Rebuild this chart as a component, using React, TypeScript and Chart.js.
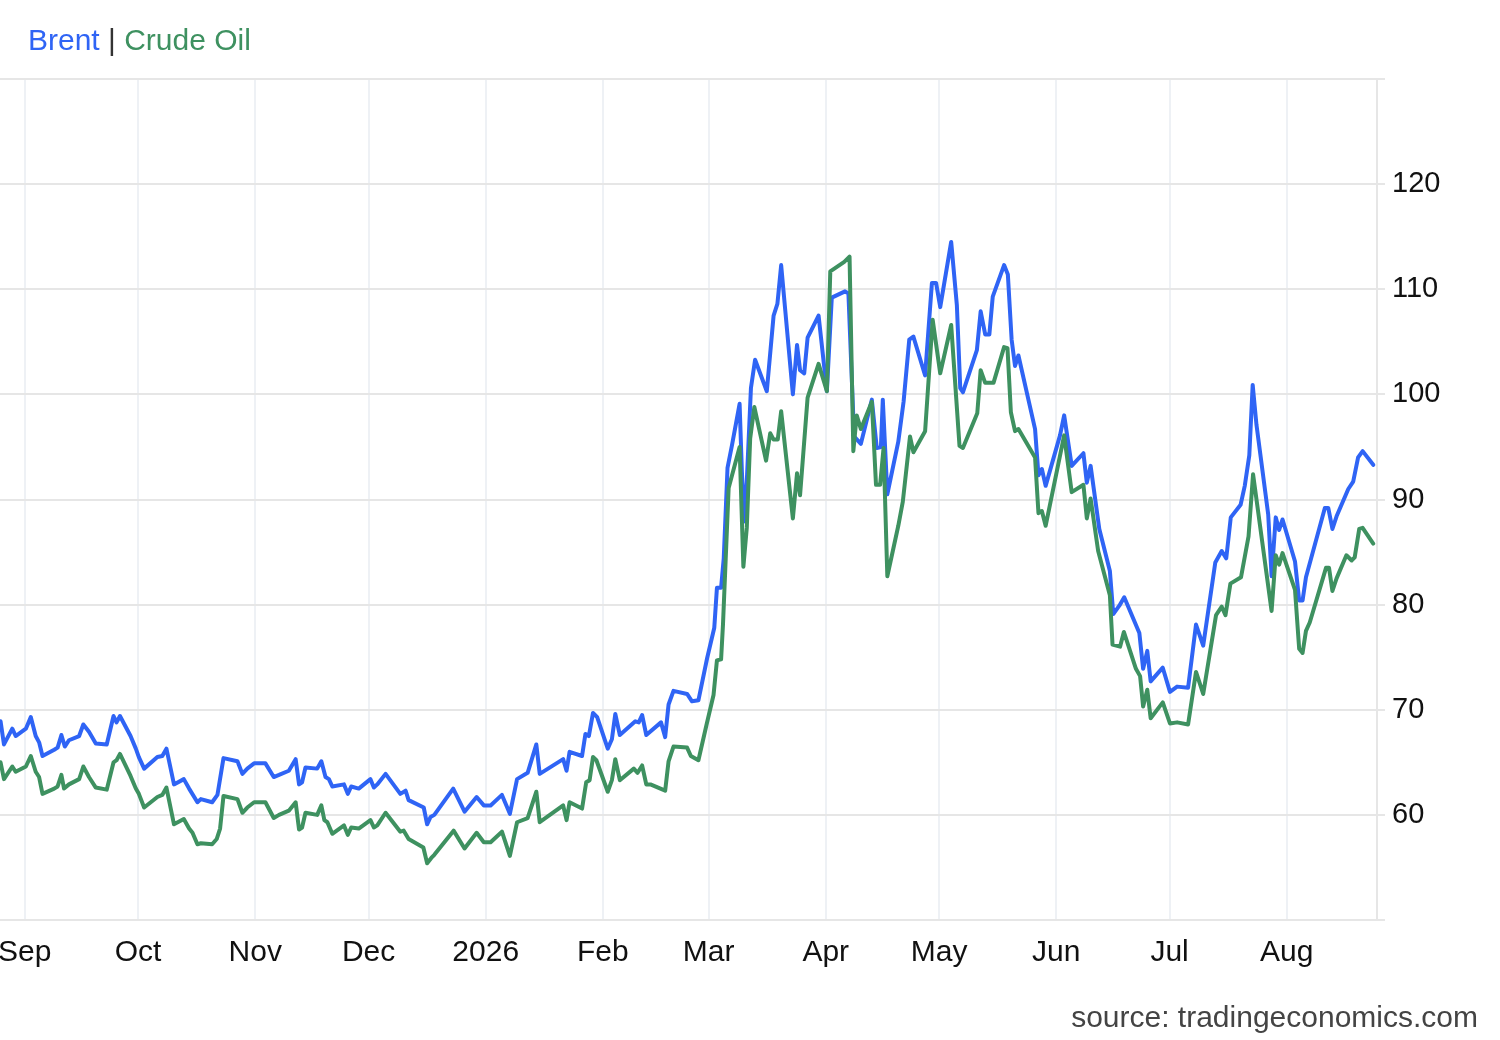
import { useEffect, useRef } from 'react';
import { Chart, registerables } from 'chart.js';

Chart.register(...registerables);

const BLUE = '#2f64f5';
const GREEN = '#3e9160';
const FONT = '"Liberation Sans", Arial, sans-serif';

// x axis is "days since 1 Sep 2025"
const X_MIN = -6.55;
const X_MAX = 357.9;
const MONTH_DAYS = [0, 30, 61, 91, 122, 153, 181, 212, 242, 273, 303, 334];
const MONTH_LABELS = ['Sep', 'Oct', 'Nov', 'Dec', '2026', 'Feb', 'Mar', 'Apr', 'May', 'Jun', 'Jul', 'Aug'];
const Y_TICKS = [60, 70, 80, 90, 100, 110, 120];

const brentDays = [
  -6.4, -5.5, -3.3, -2.4, 0.3, 1.6, 2.9, 3.8, 4.7, 7.8, 8.7, 9.7, 10.6, 11.7, 14.4, 15.5, 17.0, 18.8, 21.7, 23.5,
  24.3, 25.2, 28.0, 29.4, 30.2, 31.6, 35.1, 36.4, 37.5, 39.5, 42.1, 43.5, 45.7, 46.6, 49.6, 51.0, 52.6, 56.3, 57.6, 58.9,
  60.7, 63.7, 65.9, 67.3, 69.9, 71.7, 72.6, 73.4, 74.3, 77.4, 78.5, 79.6, 80.5, 81.4, 84.5, 85.5, 86.4, 88.4, 91.5, 92.4,
  93.3, 95.5, 99.4, 100.8, 101.6, 105.6, 106.5, 107.4, 108.4, 113.4, 116.4, 119.6, 121.5, 123.3, 126.3, 128.4, 130.3, 133.1, 135.4, 136.3,
  142.5, 143.4, 144.2, 147.5, 148.4, 149.3, 150.4, 151.5, 154.3, 155.4, 156.3, 157.5, 161.6, 162.5, 163.4, 164.5, 168.4, 169.5, 170.4, 171.7,
  175.3, 176.6, 178.3, 180.6, 182.5, 183.2, 184.3, 185.0, 186.0, 187.2, 189.2, 189.8, 190.4, 191.1, 192.2, 193.3, 196.4, 198.2, 199.2, 200.2,
  203.3, 204.4, 205.2, 206.3, 207.2, 210.1, 212.3, 213.6, 217.1, 218.0, 219.5, 221.3, 224.2, 225.5, 226.6, 227.1, 228.3, 231.2, 232.6, 234.1,
  235.2, 238.3, 240.1, 241.2, 242.3, 245.2, 246.7, 247.6, 248.3, 252.0, 253.0, 254.2, 255.3, 256.2, 259.2, 260.2, 261.2, 262.1, 263.0, 267.4,
  268.3, 269.2, 270.2, 274.0, 275.1, 277.1, 280.2, 281.1, 282.1, 284.4, 287.2, 288.1, 289.7, 291.0, 295.0, 296.0, 297.1, 298.0, 301.2, 303.1,
  305.0, 307.9, 310.0, 311.9, 315.1, 316.8, 318.0, 319.2, 321.8, 322.9, 324.1, 325.0, 326.0, 329.1, 330.0, 331.1, 332.0, 332.9, 336.2, 337.3,
  338.2, 339.1, 344.1, 345.0, 346.1, 347.2, 350.3, 351.6, 352.9, 354.1, 356.9
];
const brentPrices = [
  68.9, 66.7, 68.2, 67.5, 68.2, 69.3, 67.5, 66.9, 65.6, 66.2, 66.4, 67.6, 66.5, 67.1, 67.5, 68.6, 67.9, 66.8, 66.7, 69.4,
  68.8, 69.4, 67.5, 66.3, 65.5, 64.4, 65.5, 65.6, 66.3, 62.9, 63.4, 62.5, 61.2, 61.5, 61.2, 61.9, 65.4, 65.1, 63.9, 64.4,
  64.9, 64.9, 63.6, 63.8, 64.2, 65.3, 62.9, 63.1, 64.5, 64.4, 65.1, 63.6, 63.4, 62.7, 62.9, 62.0, 62.7, 62.5, 63.4, 62.6,
  62.9, 63.9, 62.0, 62.3, 61.4, 60.7, 59.1, 59.8, 60.0, 62.5, 60.3, 61.7, 60.9, 60.9, 61.9, 60.1, 63.4, 64.0, 66.7, 63.9,
  65.3, 64.2, 66.0, 65.6, 67.7, 67.5, 69.7, 69.3, 66.3, 67.2, 69.6, 67.6, 68.9, 68.8, 69.5, 67.6, 68.8, 67.4, 70.5, 71.8,
  71.5, 70.8, 70.9, 74.9, 77.8, 81.6, 81.6, 84.4, 93.0, 95.2, 99.1, 92.7, 87.9, 91.7, 100.6, 103.3, 100.3, 107.5, 108.6, 112.3,
  100.0, 104.7, 102.3, 102.0, 105.4, 107.5, 100.3, 109.2, 109.8, 109.6, 96.0, 95.3, 99.5, 94.9, 95.0, 99.5, 90.5, 95.5, 99.3, 105.2,
  105.5, 101.8, 110.6, 110.6, 108.3, 114.5, 108.5, 100.6, 100.2, 104.2, 107.9, 105.7, 105.7, 109.3, 112.3, 111.4, 105.2, 102.7, 103.7, 96.7,
  92.3, 92.9, 91.3, 96.1, 98.0, 93.2, 94.4, 91.6, 93.2, 87.2, 83.2, 79.1, 79.9, 80.7, 77.3, 73.9, 75.6, 72.7, 74.0, 71.7,
  72.2, 72.1, 78.1, 76.1, 84.0, 85.1, 84.4, 88.3, 89.5, 91.3, 94.2, 100.9, 97.1, 88.6, 82.7, 88.3, 87.1, 88.1, 84.1, 80.4,
  80.4, 82.6, 89.2, 89.2, 87.2, 88.4, 91.0, 91.7, 94.0, 94.6, 93.3
];

const crudeDays = [
  -6.4, -5.5, -3.3, -2.4, 0.3, 1.6, 2.9, 3.8, 4.7, 7.8, 8.7, 9.7, 10.4, 11.7, 14.4, 15.5, 17.0, 18.8, 21.7, 23.5,
  24.3, 25.2, 28.0, 29.4, 30.2, 31.6, 35.1, 36.4, 37.5, 39.5, 42.1, 43.5, 44.4, 45.7, 46.6, 49.6, 50.8, 51.7, 52.6, 56.3,
  57.6, 58.9, 60.7, 63.7, 65.9, 67.3, 69.9, 71.7, 72.6, 73.4, 74.3, 77.4, 78.5, 79.3, 80.1, 81.4, 84.5, 85.5, 86.4, 88.4,
  91.5, 92.4, 93.3, 95.5, 99.4, 100.3, 101.6, 105.5, 106.5, 107.6, 108.4, 113.5, 116.4, 119.6, 121.5, 123.3, 126.3, 128.4, 130.3, 133.1,
  135.4, 136.3, 142.5, 143.4, 144.2, 147.5, 148.6, 149.5, 150.4, 151.3, 154.3, 155.4, 156.3, 157.5, 161.2, 162.2, 163.4, 164.5, 165.6, 169.5,
  170.4, 171.7, 175.3, 176.3, 178.3, 180.4, 182.3, 183.2, 184.3, 184.8, 186.3, 189.2, 190.2, 191.1, 192.0, 193.1, 196.2, 197.3, 198.2, 199.3,
  200.2, 203.3, 204.4, 205.2, 207.2, 210.1, 212.3, 213.2, 216.9, 218.3, 219.3, 220.2, 221.3, 224.2, 225.3, 226.4, 227.3, 228.3, 231.2, 232.4,
  234.3, 235.2, 238.3, 240.3, 242.3, 245.2, 247.4, 248.3, 252.1, 253.0, 254.2, 256.4, 259.2, 260.1, 261.0, 262.1, 263.0, 267.4, 268.3, 269.2,
  270.2, 275.1, 277.1, 280.2, 281.1, 282.1, 284.1, 287.2, 287.9, 289.9, 290.9, 294.1, 295.2, 296.0, 297.1, 298.0, 301.2, 303.1, 305.0, 307.9,
  310.0, 311.9, 315.3, 316.8, 317.8, 319.1, 321.9, 323.9, 325.1, 330.0, 331.1, 332.0, 332.9, 336.2, 337.3, 338.2, 339.1, 340.1, 344.4, 345.2,
  346.1, 347.2, 349.8, 351.2, 352.0, 353.2, 354.1, 356.9
];
const crudePrices = [
  65.0, 63.4, 64.6, 64.1, 64.6, 65.6, 64.1, 63.6, 62.0, 62.5, 62.7, 63.8, 62.5, 62.9, 63.4, 64.6, 63.6, 62.6, 62.4, 65.0,
  65.2, 65.8, 63.7, 62.5, 62.0, 60.7, 61.7, 61.9, 62.6, 59.1, 59.6, 58.7, 58.3, 57.2, 57.3, 57.2, 57.7, 58.7, 61.8, 61.5,
  60.2, 60.7, 61.2, 61.2, 59.7, 60.0, 60.4, 61.2, 58.6, 58.8, 60.2, 60.0, 60.9, 59.5, 59.3, 58.2, 59.0, 58.1, 58.8, 58.7,
  59.5, 58.8, 59.0, 60.2, 58.4, 58.5, 57.7, 56.9, 55.4, 55.9, 56.2, 58.5, 56.8, 58.3, 57.4, 57.4, 58.4, 56.1, 59.3, 59.7,
  62.2, 59.3, 60.9, 59.5, 61.2, 60.6, 63.1, 63.3, 65.5, 65.2, 62.2, 63.3, 65.3, 63.3, 64.4, 64.0, 64.7, 62.9, 62.9, 62.3,
  65.1, 66.5, 66.4, 65.6, 65.2, 68.5, 71.4, 74.7, 74.8, 78.1, 91.1, 95.0, 83.6, 87.3, 95.8, 98.8, 93.7, 96.3, 95.7, 95.7,
  98.4, 88.2, 92.5, 90.4, 99.7, 102.9, 100.3, 111.7, 112.6, 113.1, 94.6, 98.0, 96.7, 99.3, 91.4, 91.4, 94.9, 82.7, 87.5, 89.8,
  96.0, 94.5, 96.5, 107.1, 102.0, 106.6, 95.1, 94.9, 98.2, 102.3, 101.1, 101.1, 104.5, 104.4, 98.3, 96.5, 96.7, 94.0, 88.7, 88.9,
  87.5, 96.1, 90.7, 91.4, 88.2, 90.1, 85.1, 80.9, 76.2, 76.0, 77.4, 73.9, 73.2, 70.3, 71.9, 69.2, 70.7, 68.7, 68.8, 68.6,
  73.6, 71.5, 79.0, 79.8, 79.0, 82.0, 82.6, 86.5, 92.4, 79.4, 84.7, 83.8, 84.9, 81.4, 75.8, 75.4, 77.5, 78.3, 83.5, 83.5,
  81.3, 82.5, 84.7, 84.2, 84.5, 87.2, 87.3, 85.8
];

const toPoints = (xs: number[], ys: number[]) => xs.map((x, i) => ({ x, y: ys[i] }));

export default function App() {
  const canvasRef = useRef<HTMLCanvasElement | null>(null);

  useEffect(() => {
    if (!canvasRef.current) return;
    const chart = new Chart(canvasRef.current, {
      type: 'line',
      data: {
        datasets: [
          {
            label: 'Crude Oil',
            data: toPoints(crudeDays, crudePrices),
            borderColor: GREEN,
            borderWidth: 4,
            pointRadius: 0,
            tension: 0,
            borderJoinStyle: 'round',
            borderCapStyle: 'round'
          },
          {
            label: 'Brent',
            data: toPoints(brentDays, brentPrices),
            borderColor: BLUE,
            borderWidth: 4,
            pointRadius: 0,
            tension: 0,
            borderJoinStyle: 'round',
            borderCapStyle: 'round'
          }
        ]
      },
      options: {
        animation: false,
        responsive: true,
        maintainAspectRatio: false,
        layout: { padding: { top: 79, left: 0, right: 0, bottom: 0 } },
        plugins: {
          legend: { display: false },
          tooltip: { enabled: false }
        },
        scales: {
          x: {
            type: 'linear',
            min: X_MIN,
            max: X_MAX,
            afterBuildTicks: (scale: any) => {
              scale.ticks = MONTH_DAYS.map((value) => ({ value }));
            },
            afterFit: (scale: any) => {
              scale.height = 120;
              scale.paddingLeft = 0;
              scale.paddingRight = 0;
              scale.paddingTop = 0;
              scale.paddingBottom = 0;
            },
            grid: {
              color: '#eef1f5',
              lineWidth: 2,
              drawTicks: false
            },
            border: { display: false },
            ticks: {
              autoSkip: false,
              maxRotation: 0,
              padding: 15,
              color: '#111',
              font: { family: FONT, size: 30 },
              callback: (_v: any, i: number) => MONTH_LABELS[i]
            }
          },
          y: {
            position: 'right',
            min: 50,
            max: 130,
            afterFit: (scale: any) => {
              scale.width = 123;
              scale.paddingLeft = 0;
              scale.paddingRight = 0;
              scale.paddingTop = 0;
              scale.paddingBottom = 0;
            },
            grid: {
              color: '#e6e6e6',
              lineWidth: 2,
              tickLength: 8
            },
            border: { display: true, color: '#e6e6e6', width: 2 },
            ticks: {
              stepSize: 10,
              padding: 7,
              color: '#111',
              font: { family: FONT, size: 29 },
              callback: (v: any) => (Y_TICKS.includes(Number(v)) ? String(v) : '')
            }
          }
        }
      }
    });
    return () => chart.destroy();
  }, []);

  return (
    <div
      style={{
        position: 'absolute',
        left: 0,
        top: 0,
        width: 1500,
        height: 1040,
        background: '#fff',
        fontFamily: FONT
      }}
    >
      <div style={{ position: 'absolute', left: 0, top: 0, width: 1500, height: 1040 }}>
        <canvas ref={canvasRef} />
      </div>
      <div
        style={{
          position: 'absolute',
          left: 28,
          top: 25,
          fontSize: 30,
          lineHeight: '30px',
          whiteSpace: 'nowrap'
        }}
      >
        <span style={{ color: BLUE }}>Brent</span>
        <span style={{ color: '#333' }}> | </span>
        <span style={{ color: GREEN }}>Crude Oil</span>
      </div>
      <div
        style={{
          position: 'absolute',
          right: 22,
          top: 1002,
          fontSize: 30,
          lineHeight: '30px',
          color: '#444',
          whiteSpace: 'nowrap'
        }}
      >
        source: tradingeconomics.com
      </div>
    </div>
  );
}
